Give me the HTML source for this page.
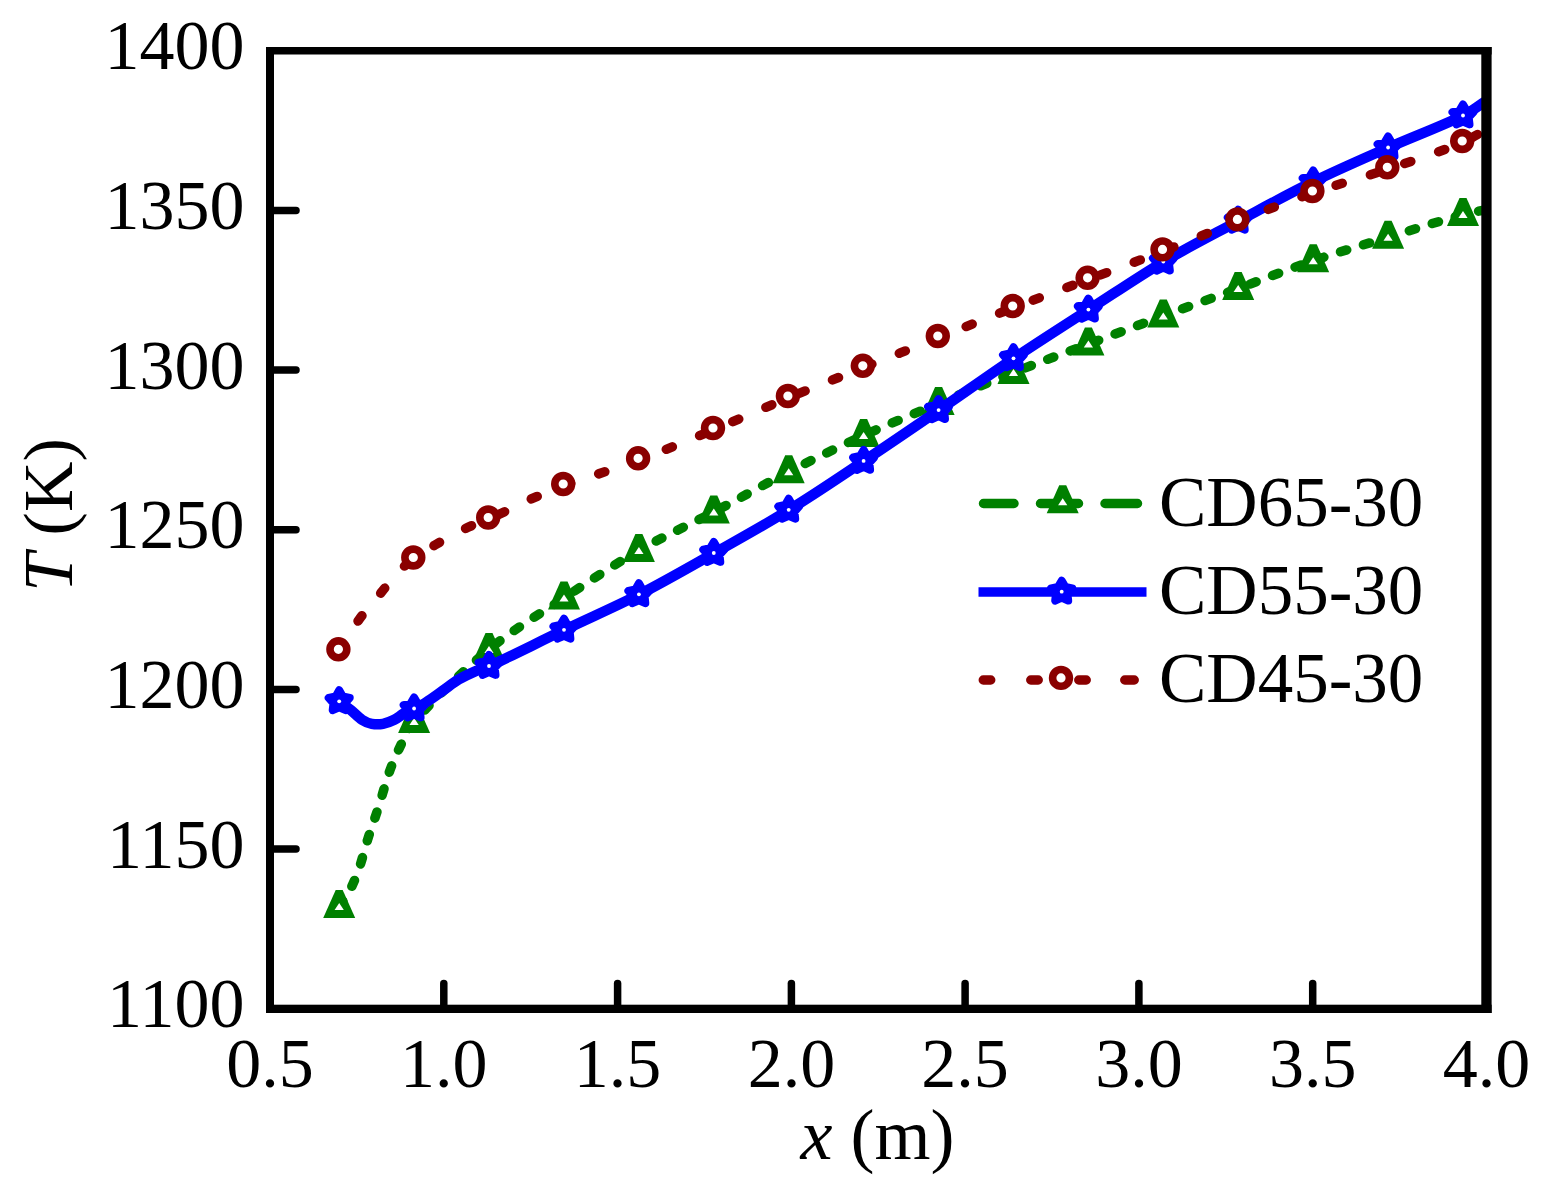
<!DOCTYPE html>
<html><head><meta charset="utf-8"><title>CD temperature chart</title>
<style>html,body{margin:0;padding:0;background:#fff;width:1556px;height:1200px;overflow:hidden}svg{display:block}</style>
</head><body>
<svg width="1556" height="1200" viewBox="0 0 1556 1200">
<rect width="1556" height="1200" fill="#fff"/>
<defs><clipPath id="pa"><rect x="270.0" y="50.8" width="1216.5" height="957.9"/></clipPath></defs>
<g clip-path="url(#pa)" fill="none" stroke-linecap="round" stroke-linejoin="round"><path d="M339.2,906.5 C343.1,900.3 347.1,895.7 351.0,888.0 C353.9,882.3 356.9,874.8 359.8,866.3 C362.3,858.9 364.9,848.3 367.4,840.3 C371.0,828.8 374.7,819.1 378.3,807.8 C381.9,796.7 385.4,783.2 389.0,773.0 C392.3,763.7 395.5,756.0 398.8,749.3 C403.9,738.8 409.0,727.1 414.1,721.5 C439.1,693.9 464.1,670.1 489.0,649.5 C514.0,628.9 539.0,614.5 564.0,598.0 C588.9,581.5 613.9,564.8 638.9,550.5 C663.9,536.2 688.8,525.1 713.8,512.0 C738.8,498.9 763.7,484.6 788.7,471.8 C813.7,459.1 838.7,446.9 863.6,435.5 C888.6,424.1 913.6,414.0 938.6,403.5 C963.5,393.0 988.5,382.4 1013.5,372.5 C1038.5,362.6 1063.4,353.5 1088.4,344.1 C1113.4,334.7 1138.3,325.2 1163.3,315.9 C1188.3,306.6 1213.3,297.7 1238.2,288.5 C1263.2,279.3 1288.2,269.2 1313.2,260.7 C1338.1,252.2 1363.1,245.0 1388.1,237.3 C1413.1,229.6 1438.0,221.5 1463.0,214.5 C1470.3,212.4 1477.7,211.3 1485.0,210.0 C1490.0,209.1 1495.0,208.7 1500.0,208.0" stroke="#008000" stroke-width="9.5" stroke-dasharray="6.5 17.5"/></g>
<g><path d="M335.7,890.0 H342.7 L355.2,918.0 H323.2 Z" fill="#008000"/><path d="M339.2,903.0 L343.8,910.0 H334.6 Z" fill="#fff"/><path d="M410.6,705.0 H417.6 L430.1,733.0 H398.1 Z" fill="#008000"/><path d="M414.1,718.0 L418.7,725.0 H409.5 Z" fill="#fff"/><path d="M485.5,633.0 H492.5 L505.0,661.0 H473.0 Z" fill="#008000"/><path d="M489.0,646.0 L493.6,653.0 H484.4 Z" fill="#fff"/><path d="M560.5,581.5 H567.5 L580.0,609.5 H548.0 Z" fill="#008000"/><path d="M564.0,594.5 L568.6,601.5 H559.4 Z" fill="#fff"/><path d="M635.4,534.0 H642.4 L654.9,562.0 H622.9 Z" fill="#008000"/><path d="M638.9,547.0 L643.5,554.0 H634.3 Z" fill="#fff"/><path d="M710.3,495.5 H717.3 L729.8,523.5 H697.8 Z" fill="#008000"/><path d="M713.8,508.5 L718.4,515.5 H709.2 Z" fill="#fff"/><path d="M785.2,455.3 H792.2 L804.7,483.3 H772.7 Z" fill="#008000"/><path d="M788.7,468.3 L793.3,475.3 H784.1 Z" fill="#fff"/><path d="M860.1,419.0 H867.1 L879.6,447.0 H847.6 Z" fill="#008000"/><path d="M863.6,432.0 L868.2,439.0 H859.0 Z" fill="#fff"/><path d="M935.1,387.0 H942.1 L954.6,415.0 H922.6 Z" fill="#008000"/><path d="M938.6,400.0 L943.2,407.0 H934.0 Z" fill="#fff"/><path d="M1010.0,356.0 H1017.0 L1029.5,384.0 H997.5 Z" fill="#008000"/><path d="M1013.5,369.0 L1018.1,376.0 H1008.9 Z" fill="#fff"/><path d="M1084.9,327.6 H1091.9 L1104.4,355.6 H1072.4 Z" fill="#008000"/><path d="M1088.4,340.6 L1093.0,347.6 H1083.8 Z" fill="#fff"/><path d="M1159.8,299.4 H1166.8 L1179.3,327.4 H1147.3 Z" fill="#008000"/><path d="M1163.3,312.4 L1167.9,319.4 H1158.7 Z" fill="#fff"/><path d="M1234.7,272.0 H1241.7 L1254.2,300.0 H1222.2 Z" fill="#008000"/><path d="M1238.2,285.0 L1242.8,292.0 H1233.6 Z" fill="#fff"/><path d="M1309.7,244.2 H1316.7 L1329.2,272.2 H1297.2 Z" fill="#008000"/><path d="M1313.2,257.2 L1317.8,264.2 H1308.6 Z" fill="#fff"/><path d="M1384.6,220.8 H1391.6 L1404.1,248.8 H1372.1 Z" fill="#008000"/><path d="M1388.1,233.8 L1392.7,240.8 H1383.5 Z" fill="#fff"/><path d="M1459.5,198.0 H1466.5 L1479.0,226.0 H1447.0 Z" fill="#008000"/><path d="M1463.0,211.0 L1467.6,218.0 H1458.4 Z" fill="#fff"/></g>
<g clip-path="url(#pa)" fill="none" stroke-linecap="round" stroke-linejoin="round"><path d="M339.2,701.6 C343.1,704.4 347.0,707.0 350.9,710.1 C354.6,713.1 358.4,717.4 362.1,719.8 C365.3,721.9 368.6,723.2 371.8,723.8 C375.5,724.5 379.3,724.5 383.0,723.8 C386.8,723.1 390.5,721.7 394.3,719.8 C397.5,718.2 400.7,715.2 403.9,713.4 C407.3,711.5 410.7,710.5 414.1,708.8 C418.2,706.7 422.3,704.7 426.4,702.1 C431.8,698.7 437.1,694.7 442.5,690.9 C447.8,687.2 453.2,682.8 458.5,679.6 C463.9,676.4 469.2,673.9 474.6,671.6 C479.4,669.5 484.2,668.5 489.0,666.3 C514.0,654.7 539.0,642.0 564.0,630.1 C588.9,618.1 613.9,607.4 638.9,594.6 C663.9,581.8 688.8,567.4 713.8,553.3 C738.8,539.2 763.7,525.5 788.7,510.1 C813.7,494.8 838.7,477.8 863.6,461.2 C888.6,444.6 913.6,427.5 938.6,410.4 C963.5,393.3 988.5,375.4 1013.5,358.6 C1038.5,341.9 1063.4,326.0 1088.4,309.9 C1113.4,293.8 1138.3,276.7 1163.3,261.9 C1188.3,247.1 1213.3,234.5 1238.2,221.1 C1263.2,207.8 1288.2,194.0 1313.2,181.8 C1338.1,169.6 1363.1,158.8 1388.1,147.8 C1413.1,136.8 1438.0,127.6 1463.0,115.8 C1469.7,112.7 1476.3,107.3 1483.0,103.0 C1488.7,99.4 1494.3,95.7 1500.0,92.0" stroke="#0000ff" stroke-width="10.5"/></g>
<g fill="#0000ff" stroke="#0000ff" stroke-width="8" stroke-linejoin="round"><polygon points="339.2,690.3 342.7,696.4 349.7,697.9 344.9,703.2 345.7,710.2 339.2,707.3 332.7,710.2 333.5,703.2 328.7,697.9 335.7,696.4"/><circle cx="339.2" cy="701.3" r="1.9" fill="#fff" stroke="none"/><polygon points="414.1,697.5 417.6,703.6 424.6,705.1 419.8,710.4 420.6,717.4 414.1,714.5 407.7,717.4 408.4,710.4 403.7,705.1 410.6,703.6"/><circle cx="414.1" cy="708.5" r="1.9" fill="#fff" stroke="none"/><polygon points="489.0,655.0 492.6,661.1 499.5,662.6 494.7,667.9 495.5,674.9 489.0,672.0 482.6,674.9 483.3,667.9 478.6,662.6 485.5,661.1"/><circle cx="489.0" cy="666.0" r="1.9" fill="#fff" stroke="none"/><polygon points="564.0,618.8 567.5,624.9 574.4,626.4 569.7,631.7 570.4,638.7 564.0,635.8 557.5,638.7 558.3,631.7 553.5,626.4 560.4,624.9"/><circle cx="564.0" cy="629.8" r="1.9" fill="#fff" stroke="none"/><polygon points="638.9,583.3 642.4,589.4 649.3,590.9 644.6,596.2 645.3,603.2 638.9,600.3 632.4,603.2 633.2,596.2 628.4,590.9 635.4,589.4"/><circle cx="638.9" cy="594.3" r="1.9" fill="#fff" stroke="none"/><polygon points="713.8,542.0 717.3,548.1 724.3,549.6 719.5,554.9 720.3,561.9 713.8,559.0 707.3,561.9 708.1,554.9 703.3,549.6 710.3,548.1"/><circle cx="713.8" cy="553.0" r="1.9" fill="#fff" stroke="none"/><polygon points="788.7,498.8 792.2,504.9 799.2,506.4 794.4,511.7 795.2,518.7 788.7,515.8 782.3,518.7 783.0,511.7 778.3,506.4 785.2,504.9"/><circle cx="788.7" cy="509.8" r="1.9" fill="#fff" stroke="none"/><polygon points="863.6,449.9 867.2,456.0 874.1,457.5 869.3,462.8 870.1,469.8 863.6,466.9 857.2,469.8 857.9,462.8 853.2,457.5 860.1,456.0"/><circle cx="863.6" cy="460.9" r="1.9" fill="#fff" stroke="none"/><polygon points="938.6,399.1 942.1,405.2 949.0,406.7 944.3,412.0 945.0,419.0 938.6,416.1 932.1,419.0 932.9,412.0 928.1,406.7 935.0,405.2"/><circle cx="938.6" cy="410.1" r="1.9" fill="#fff" stroke="none"/><polygon points="1013.5,347.3 1017.0,353.4 1023.9,354.9 1019.2,360.2 1019.9,367.2 1013.5,364.3 1007.0,367.2 1007.8,360.2 1003.0,354.9 1010.0,353.4"/><circle cx="1013.5" cy="358.3" r="1.9" fill="#fff" stroke="none"/><polygon points="1088.4,298.6 1091.9,304.7 1098.9,306.2 1094.1,311.5 1094.9,318.5 1088.4,315.6 1081.9,318.5 1082.7,311.5 1077.9,306.2 1084.9,304.7"/><circle cx="1088.4" cy="309.6" r="1.9" fill="#fff" stroke="none"/><polygon points="1163.3,250.6 1166.8,256.7 1173.8,258.2 1169.0,263.5 1169.8,270.5 1163.3,267.6 1156.9,270.5 1157.6,263.5 1152.9,258.2 1159.8,256.7"/><circle cx="1163.3" cy="261.6" r="1.9" fill="#fff" stroke="none"/><polygon points="1238.2,209.8 1241.8,215.9 1248.7,217.4 1243.9,222.7 1244.7,229.7 1238.2,226.8 1231.8,229.7 1232.5,222.7 1227.8,217.4 1234.7,215.9"/><circle cx="1238.2" cy="220.8" r="1.9" fill="#fff" stroke="none"/><polygon points="1313.2,170.5 1316.7,176.6 1323.6,178.1 1318.9,183.4 1319.6,190.4 1313.2,187.5 1306.7,190.4 1307.5,183.4 1302.7,178.1 1309.6,176.6"/><circle cx="1313.2" cy="181.5" r="1.9" fill="#fff" stroke="none"/><polygon points="1388.1,136.5 1391.6,142.6 1398.5,144.1 1393.8,149.4 1394.5,156.4 1388.1,153.5 1381.6,156.4 1382.4,149.4 1377.6,144.1 1384.6,142.6"/><circle cx="1388.1" cy="147.5" r="1.9" fill="#fff" stroke="none"/><polygon points="1463.0,104.5 1466.5,110.6 1473.5,112.1 1468.7,117.4 1469.5,124.4 1463.0,121.5 1456.5,124.4 1457.3,117.4 1452.5,112.1 1459.5,110.6"/><circle cx="1463.0" cy="115.5" r="1.9" fill="#fff" stroke="none"/></g>
<g clip-path="url(#pa)" fill="none" stroke-linecap="round" stroke-linejoin="round"><path d="M338.4,651.3 C345.2,640.9 352.0,629.3 358.8,620.0 C366.2,609.7 373.8,601.6 381.2,592.5 C387.1,585.4 392.9,577.3 398.8,571.2 C403.6,566.3 408.5,563.0 413.3,559.5 C420.5,554.3 427.8,549.3 435.0,545.0 C445.8,538.6 456.7,532.7 467.5,527.5 C474.4,524.2 481.3,522.6 488.2,519.5 C500.9,513.8 513.6,506.9 526.2,501.2 C538.6,495.7 550.9,490.5 563.2,486.0 C588.1,476.9 613.1,469.6 638.1,460.3 C663.1,451.0 688.0,440.4 713.0,430.0 C738.0,419.6 762.9,408.4 787.9,398.0 C812.9,387.6 837.9,377.8 862.8,367.8 C887.8,357.8 912.8,348.0 937.8,338.0 C962.7,328.0 987.7,317.7 1012.7,308.0 C1037.7,298.3 1062.6,289.2 1087.6,279.8 C1112.6,270.4 1137.5,261.1 1162.5,251.4 C1187.5,241.7 1212.5,231.1 1237.4,221.4 C1262.4,211.7 1287.4,201.7 1312.4,193.0 C1337.3,184.3 1362.3,177.6 1387.3,169.3 C1412.3,161.0 1437.2,152.6 1462.2,143.0 C1467.6,140.9 1472.9,136.5 1478.3,134.2 C1485.5,131.1 1492.8,129.4 1500.0,127.0" stroke="#8a0000" stroke-width="9.5" stroke-dasharray="6.5 29.5"/></g>
<g stroke="#8a0000" stroke-width="7.6"><circle cx="338.4" cy="649.3" r="8.4" fill="#fff"/><circle cx="413.3" cy="557.5" r="8.4" fill="#fff"/><circle cx="488.2" cy="517.5" r="8.4" fill="#fff"/><circle cx="563.2" cy="484.0" r="8.4" fill="#fff"/><circle cx="638.1" cy="458.3" r="8.4" fill="#fff"/><circle cx="713.0" cy="428.0" r="8.4" fill="#fff"/><circle cx="787.9" cy="396.0" r="8.4" fill="#fff"/><circle cx="862.8" cy="365.8" r="8.4" fill="#fff"/><circle cx="937.8" cy="336.0" r="8.4" fill="#fff"/><circle cx="1012.7" cy="306.0" r="8.4" fill="#fff"/><circle cx="1087.6" cy="277.8" r="8.4" fill="#fff"/><circle cx="1162.5" cy="249.4" r="8.4" fill="#fff"/><circle cx="1237.4" cy="219.4" r="8.4" fill="#fff"/><circle cx="1312.4" cy="191.0" r="8.4" fill="#fff"/><circle cx="1387.3" cy="167.3" r="8.4" fill="#fff"/><circle cx="1462.2" cy="141.0" r="8.4" fill="#fff"/></g>
<g fill="#000">
<rect x="266" y="47" width="8" height="966"/>
<rect x="1481.3" y="47" width="10.3" height="966"/>
<rect x="266" y="47" width="1225.6" height="7.5"/>
<rect x="266" y="1004.7" width="1225.6" height="8.3"/>
</g>
<g stroke="#000" stroke-width="7.5" stroke-linecap="round">
<line x1="272" y1="849.1" x2="296" y2="849.1"/>
<line x1="272" y1="689.4" x2="296" y2="689.4"/>
<line x1="272" y1="529.8" x2="296" y2="529.8"/>
<line x1="272" y1="370.1" x2="296" y2="370.1"/>
<line x1="272" y1="210.5" x2="296" y2="210.5"/>
<line x1="443.8" y1="1006" x2="443.8" y2="983.5"/>
<line x1="617.6" y1="1006" x2="617.6" y2="983.5"/>
<line x1="791.4" y1="1006" x2="791.4" y2="983.5"/>
<line x1="965.1" y1="1006" x2="965.1" y2="983.5"/>
<line x1="1138.9" y1="1006" x2="1138.9" y2="983.5"/>
<line x1="1312.7" y1="1006" x2="1312.7" y2="983.5"/>
</g>
<g font-family="Liberation Serif, Times New Roman, serif" font-size="70" fill="#000">
<text x="244.5" y="1027.2" text-anchor="end">1100</text>
<text x="244.5" y="867.6" text-anchor="end">1150</text>
<text x="244.5" y="707.9" text-anchor="end">1200</text>
<text x="244.5" y="548.2" text-anchor="end">1250</text>
<text x="244.5" y="388.6" text-anchor="end">1300</text>
<text x="244.5" y="229.0" text-anchor="end">1350</text>
<text x="244.5" y="69.3" text-anchor="end">1400</text>
<text x="270.0" y="1086.5" text-anchor="middle">0.5</text>
<text x="443.8" y="1086.5" text-anchor="middle">1.0</text>
<text x="617.6" y="1086.5" text-anchor="middle">1.5</text>
<text x="791.4" y="1086.5" text-anchor="middle">2.0</text>
<text x="965.1" y="1086.5" text-anchor="middle">2.5</text>
<text x="1138.9" y="1086.5" text-anchor="middle">3.0</text>
<text x="1312.7" y="1086.5" text-anchor="middle">3.5</text>
<text x="1486.5" y="1086.5" text-anchor="middle">4.0</text>
<text x="877.5" y="1159" text-anchor="middle" font-size="72"><tspan font-style="italic">x</tspan> (m)</text>
<text transform="translate(71.7,515) rotate(-90)" text-anchor="middle"><tspan font-style="italic">T</tspan> (K)</text>
<text x="1159" y="525.6" font-size="71">CD65-30</text>
<text x="1159" y="613.9" font-size="71">CD55-30</text>
<text x="1159" y="702.2" font-size="71">CD45-30</text>
</g>
<g fill="none" stroke-width="9.5" stroke-linecap="round">
<path d="M983.5,503.5 H1014 M1040.5,503.5 H1078.5 M1105,503.5 H1137.5" stroke="#008000"/>
<path d="M978.5,592 H1146.5" stroke="#0000ff" stroke-linecap="butt"/>
<path d="M983.3,680 H990.7 M1030.8,680 H1038.2 M1078.8,680 H1086.2 M1124.8,680 H1134.2" stroke="#8a0000"/>
</g>
<g><path d="M1059.2,485.3 H1066.2 L1078.7,513.3 H1046.7 Z" fill="#008000"/><path d="M1062.7,498.3 L1067.3,505.3 H1058.1 Z" fill="#fff"/></g>
<g fill="#0000ff" stroke="#0000ff" stroke-width="8" stroke-linejoin="round"><polygon points="1061.7,580.7 1065.2,586.8 1072.2,588.3 1067.4,593.6 1068.2,600.6 1061.7,597.7 1055.2,600.6 1056.0,593.6 1051.2,588.3 1058.2,586.8"/><circle cx="1061.7" cy="591.7" r="1.9" fill="#fff" stroke="none"/></g>
<g stroke="#8a0000" stroke-width="7.6"><circle cx="1061.0" cy="677.9" r="8.4" fill="#fff"/></g>
</svg>
</body></html>
